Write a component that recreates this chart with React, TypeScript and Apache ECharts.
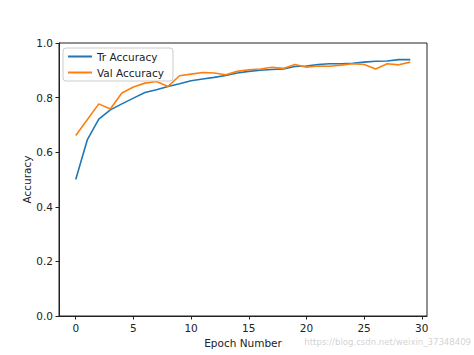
import React, { useEffect, useRef } from "react";
import * as echarts from "echarts";

const epochs = Array.from({ length: 30 }, (_, i) => i);
const trAccuracy = [0.50, 0.645, 0.721, 0.755, 0.777, 0.798, 0.819, 0.829, 0.841, 0.851, 0.862, 0.868, 0.874, 0.881, 0.890, 0.896, 0.900, 0.903, 0.905, 0.914, 0.916, 0.921, 0.924, 0.924, 0.926, 0.930, 0.933, 0.934, 0.939, 0.939];
const valAccuracy = [0.661, 0.719, 0.777, 0.758, 0.817, 0.839, 0.853, 0.859, 0.841, 0.880, 0.886, 0.892, 0.890, 0.884, 0.896, 0.902, 0.905, 0.911, 0.907, 0.921, 0.911, 0.916, 0.915, 0.919, 0.924, 0.921, 0.905, 0.924, 0.920, 0.930];
const xTicks = [0, 5, 10, 15, 20, 25, 30];
const seriesNames = ["Tr Accuracy", "Val Accuracy"];
const watermark = "https://blog.csdn.net/weixin_37348409";

export default function App() {
  const ref = useRef<HTMLDivElement>(null);
  useEffect(() => {
    if (!ref.current) return;
    const chart = echarts.init(ref.current, null, { renderer: "svg" });
    const font = "DejaVu Sans";
    const textColor = "#222";
    chart.setOption({
      animation: false,
      backgroundColor: "#fff",
      textStyle: { fontFamily: font },
      grid: {
        left: 59,
        right: 47,
        top: 43,
        bottom: 39,
        show: true,
        borderColor: "#222",
        borderWidth: 1,
        backgroundColor: "transparent",
      },
      legend: {
        left: 63,
        top: 48,
        orient: "vertical",
        data: seriesNames,
        icon: "rect",
        itemWidth: 24,
        itemHeight: 2,
        itemGap: 5,
        padding: [3, 9, 3, 5],
        borderColor: "#ccc",
        borderWidth: 1,
        borderRadius: 3,
        backgroundColor: "#fff",
        textStyle: { fontFamily: font, fontSize: 10.5, color: textColor },
      },
      xAxis: {
        type: "value",
        min: -1.45,
        max: 30.45,
        name: "Epoch Number",
        nameLocation: "middle",
        nameGap: 19,
        nameTextStyle: { fontFamily: font, fontSize: 10.5, color: textColor },
        splitLine: { show: false },
        axisLine: { show: true, onZero: false, lineStyle: { color: "#222", width: 1 } },
        axisTick: { show: true, length: 3.5, customValues: xTicks, lineStyle: { color: "#222" } },
        axisLabel: {
          customValues: xTicks,
          margin: 6,
          fontFamily: font,
          fontSize: 10.5,
          color: textColor,
        },
      },
      yAxis: {
        type: "value",
        min: 0,
        max: 1,
        interval: 0.2,
        name: "Accuracy",
        nameLocation: "middle",
        nameGap: 27,
        nameMoveOverlap: false,
        nameTextStyle: { fontFamily: font, fontSize: 10.5, color: textColor },
        splitLine: { show: false },
        axisLine: { show: true, onZero: false, lineStyle: { color: "#222", width: 1 } },
        axisTick: { show: true, length: 3.5, lineStyle: { color: "#222" } },
        axisLabel: {
          margin: 6,
          fontFamily: font,
          fontSize: 10.5,
          color: textColor,
          formatter: (v: number) => v.toFixed(1),
        },
      },
      graphic: [
        {
          type: "text",
          right: 3,
          top: 336,
          z: -1,
          style: {
            text: watermark,
            fill: "rgba(190,190,190,0.7)",
            font: "9.5px 'DejaVu Sans Condensed', 'DejaVu Sans'",
          },
        },
      ],
      series: [
        {
          name: seriesNames[0],
          type: "line",
          data: epochs.map((e, i) => [e, trAccuracy[i]]),
          showSymbol: false,
          color: "#1f77b4",
          lineStyle: { width: 1.6, color: "#1f77b4" },
        },
        {
          name: seriesNames[1],
          type: "line",
          data: epochs.map((e, i) => [e, valAccuracy[i]]),
          showSymbol: false,
          color: "#ff7f0e",
          lineStyle: { width: 1.6, color: "#ff7f0e" },
        },
      ],
    });
    return () => chart.dispose();
  }, []);
  return (
    <div
      ref={ref}
      style={{ position: "fixed", left: 0, top: 0, width: 474, height: 355 }}
    />
  );
}
